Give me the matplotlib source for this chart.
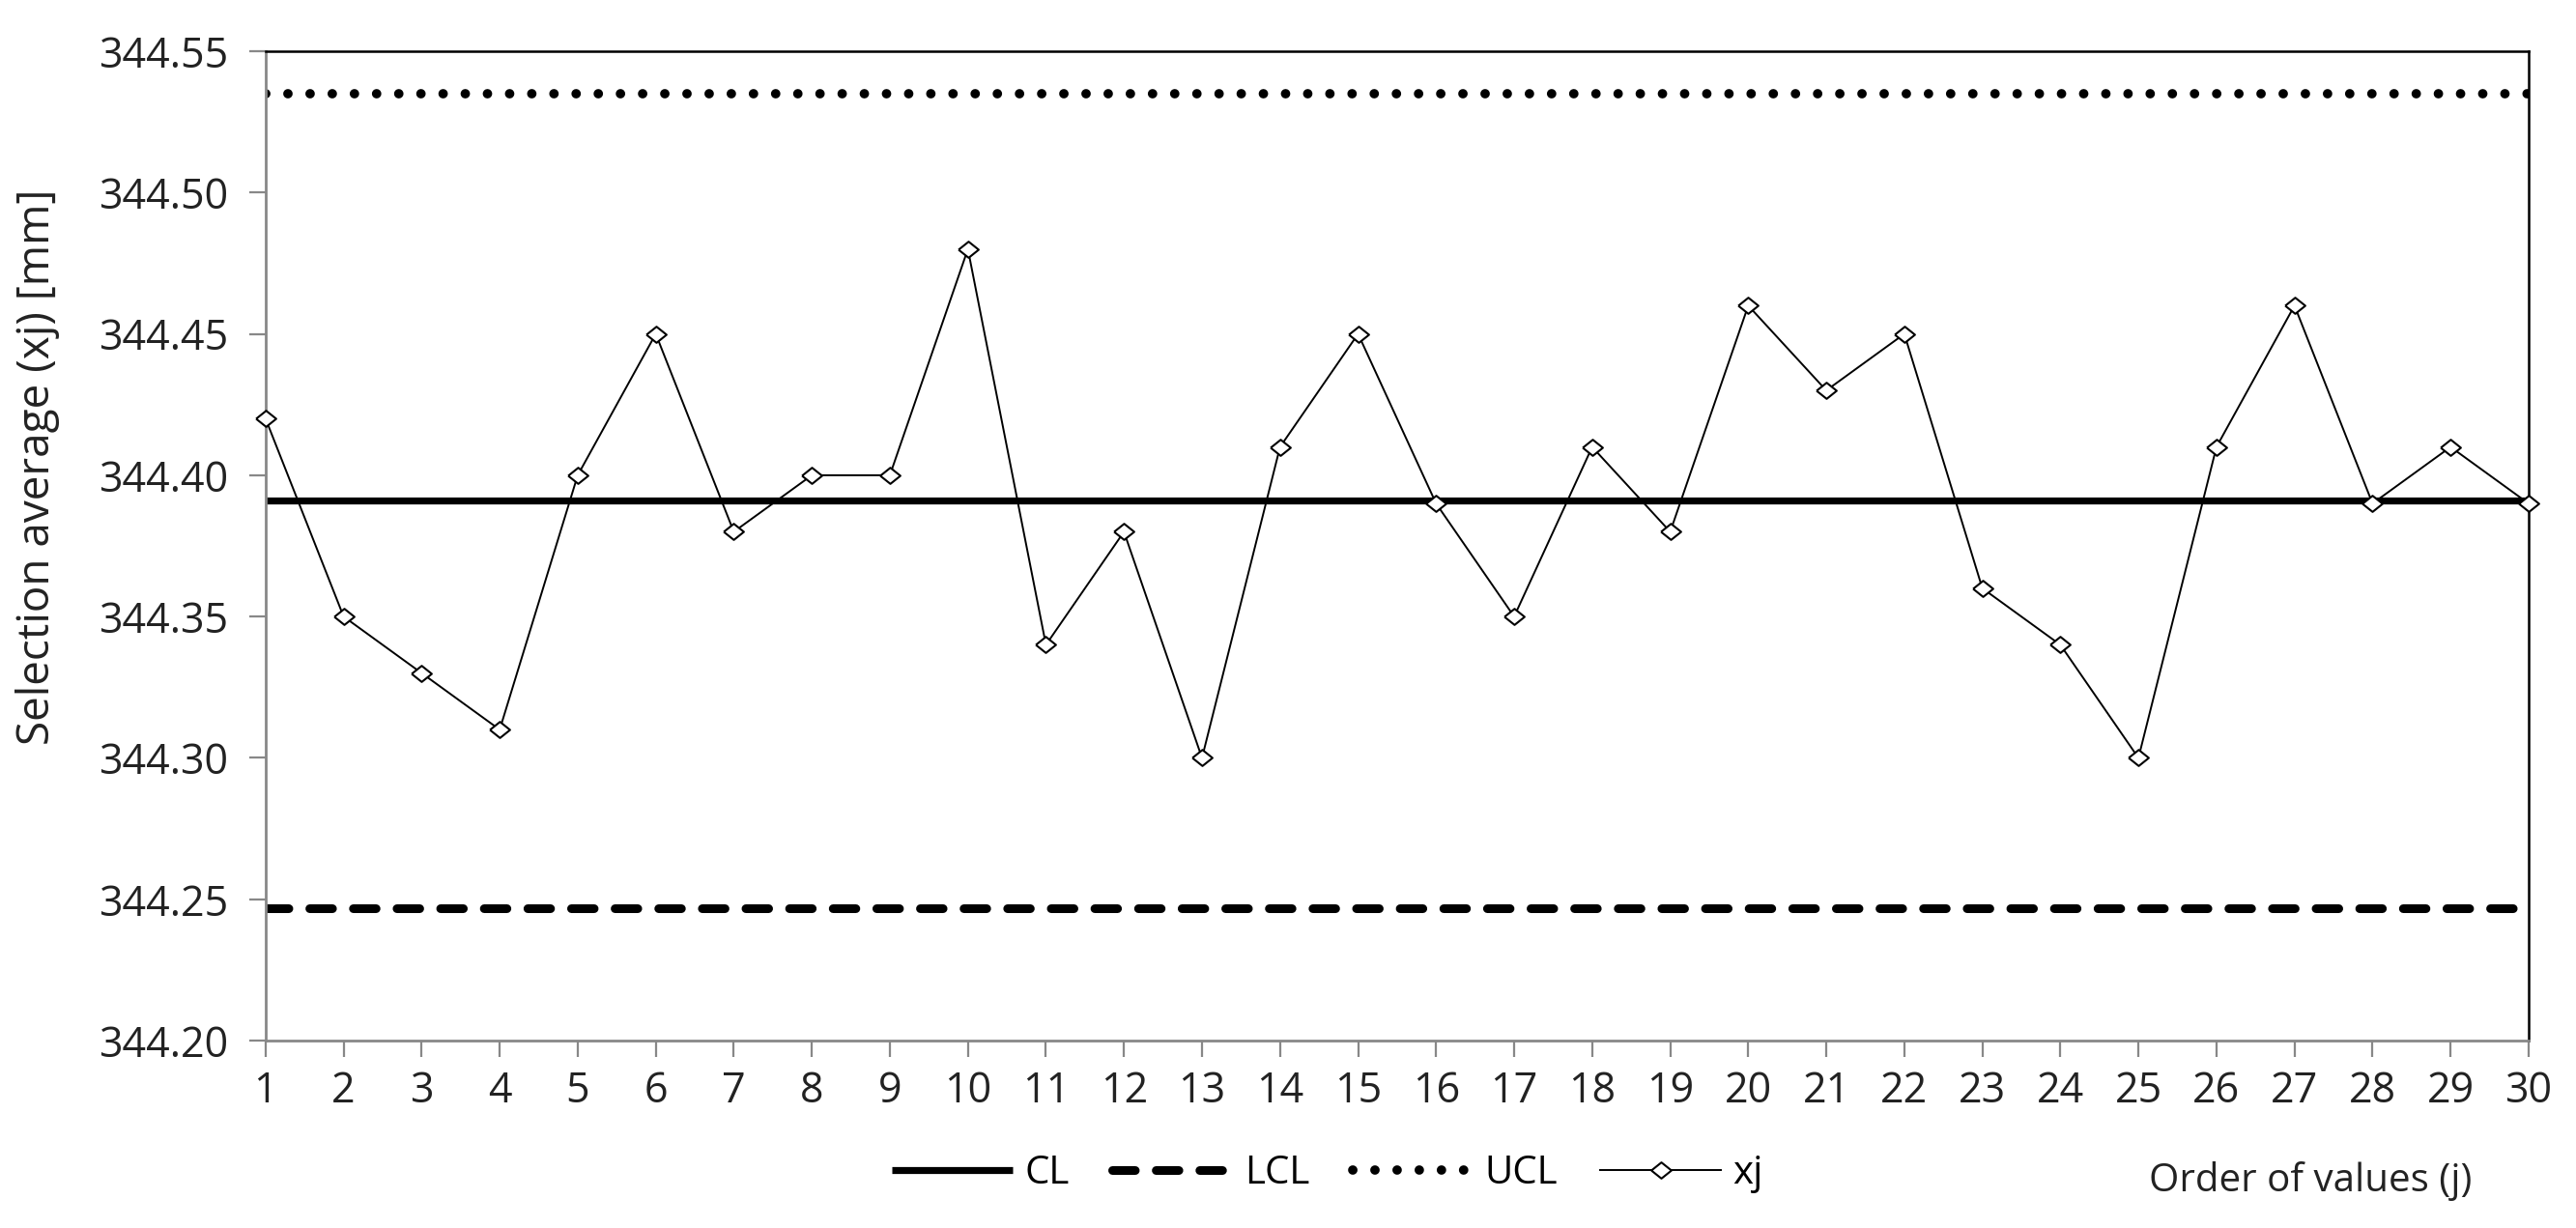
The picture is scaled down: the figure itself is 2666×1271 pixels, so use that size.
import matplotlib
matplotlib.use("Agg")
import matplotlib.pyplot as plt
import numpy as np

# chart data
order_j = list(range(1, 31))
xj = [344.42, 344.35, 344.33, 344.31, 344.40, 344.45, 344.38, 344.40, 344.40, 344.48,
      344.34, 344.38, 344.30, 344.41, 344.45, 344.39, 344.35, 344.41, 344.38, 344.46,
      344.43, 344.45, 344.36, 344.34, 344.30, 344.41, 344.46, 344.39, 344.41, 344.39]
cl = 344.391
lcl = 344.247
ucl = 344.535
y_ticks = [344.20, 344.25, 344.30, 344.35, 344.40, 344.45, 344.50, 344.55]

plt.rcParams['font.family'] = ['Open Sans', 'DejaVu Sans']
txt = '#222222'

fig = plt.figure(figsize=(26.66, 12.71), dpi=100)
ax = fig.add_axes([0.1031, 0.1526, 0.8785, 0.8057])

# wide, flat diamond like the original marker
diamond = [(-1, 0), (0, 0.8), (1, 0), (0, -0.8), (-1, 0)]

ax.plot(order_j, [cl] * len(order_j), color='black', lw=5.2, label='CL',
        solid_capstyle='butt')
ax.plot(order_j, [lcl] * len(order_j), color='black', lw=6.5, ls=(0, (2.6, 2.4)),
        dash_capstyle='round', label='LCL')
ax.plot(order_j, [ucl] * len(order_j), color='black', lw=7, ls=(0, (0.01, 2.35)),
        dash_capstyle='round', label='UCL')
ax.plot(order_j, xj, color='black', lw=1.4, marker=diamond, markersize=15,
        markerfacecolor='white', markeredgecolor='black', markeredgewidth=1.5,
        label='xj', clip_on=False, zorder=5)

ax.set_xlim(1, 30)
ax.set_ylim(344.20, 344.55)
ax.set_xticks(order_j)
ax.set_yticks(y_ticks)
ax.set_yticklabels(['%.2f' % v for v in y_ticks])

for s in ['top', 'right']:
    ax.spines[s].set_color('black')
    ax.spines[s].set_linewidth(1.8)
for s in ['left', 'bottom']:
    ax.spines[s].set_color('#888888')
    ax.spines[s].set_linewidth(2)
ax.tick_params(axis='both', direction='out', length=12, width=1.6, color='#888888',
               labelsize=31, labelcolor=txt)
ax.tick_params(axis='x', pad=10)
ax.tick_params(axis='y', pad=16)

ax.set_ylabel('Selection average (xj) [mm]', fontsize=33, color=txt)
ax.yaxis.set_label_coords(-0.091, 0.58)

handles, labels = ax.get_legend_handles_labels()
fig.legend(handles, labels, loc='center', bbox_to_anchor=(0.5154, 0.044), ncol=4,
           frameon=False, fontsize=29, handlelength=3.1, handletextpad=0.3,
           columnspacing=1.1, borderpad=0)
fig.text(0.897, 0.038, 'Order of values (j)', fontsize=29, color=txt,
         ha='center', va='center')

fig.savefig('out.png', dpi=100)
